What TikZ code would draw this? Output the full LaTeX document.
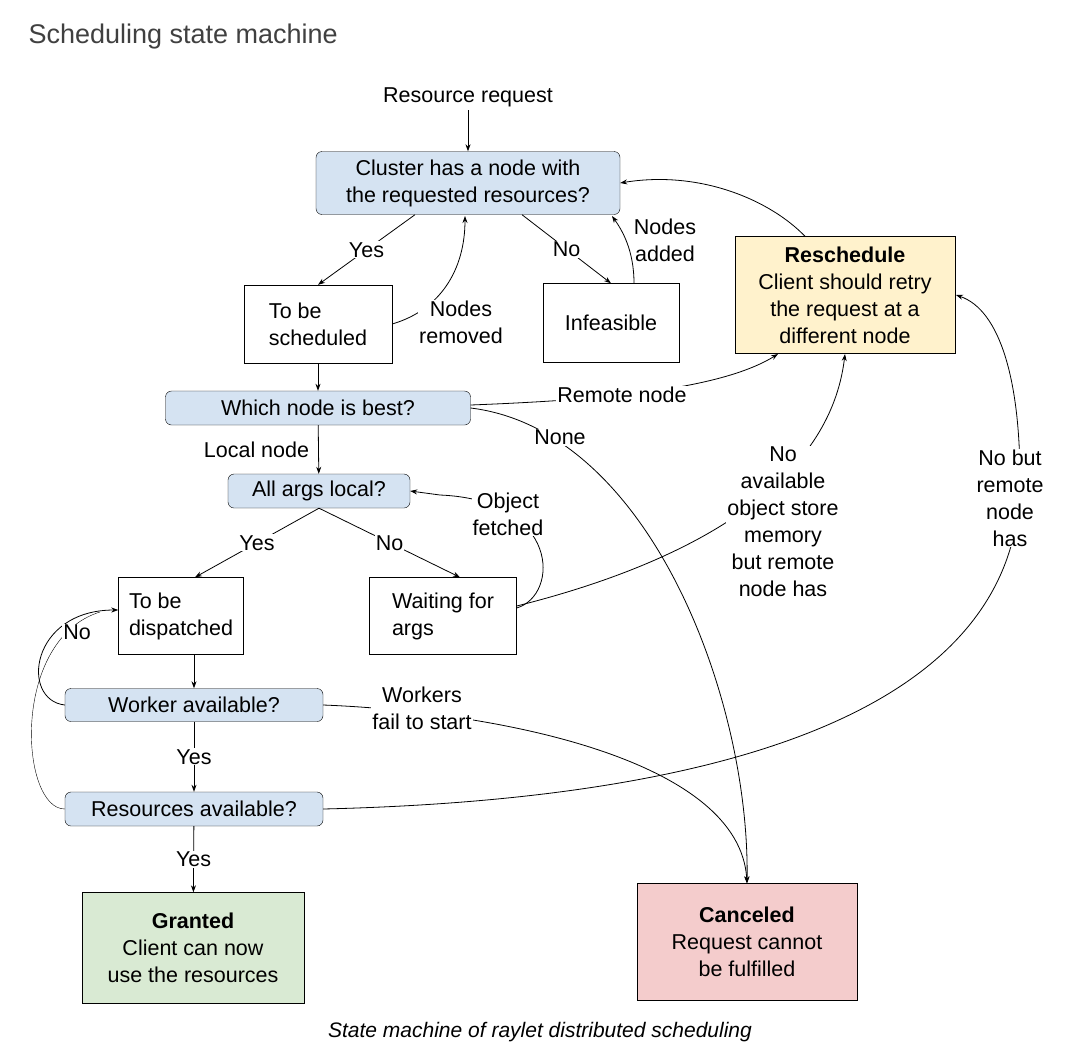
\documentclass[tikz,border=0pt]{standalone}
\usepackage{fontspec}
\setmainfont{Liberation Sans}
\usetikzlibrary{arrows.meta}
\definecolor{bl}{HTML}{D5E3F2}
\definecolor{yl}{HTML}{FFF2CC}
\definecolor{gr}{HTML}{D9EAD3}
\definecolor{pk}{HTML}{F4CCCC}
\begin{document}
\begin{tikzpicture}[x=1pt,y=-1pt,
  every node/.style={font=\fontsize{21.5}{27}\selectfont, align=center},
  box/.style={draw, inner sep=0pt},
  dec/.style={box, fill=bl, rounded corners=6pt},
  lab/.style={fill=white, inner sep=1pt},
  ar/.style={draw, -{Stealth[length=7pt,width=5pt]}, line width=0.8pt}]
\useasboundingbox (0,0) rectangle (1080,1058);
\node[anchor=west, font=\fontsize{27}{30}\selectfont, text=black!75] (title) at (25,37) {Scheduling state machine};
\node (req) at (468,97) {Resource request};
\node[dec, minimum width=304pt, minimum height=63pt] (cl) at (468,183) {Cluster has a node with\\the requested resources?};
\node[box, minimum width=148pt, minimum height=78pt, align=left] (tbs) at (318,324) {To be\\scheduled};
\node[box, minimum width=136pt, minimum height=79pt] (inf) at (611,323) {Infeasible};
\node[box, fill=yl, minimum width=220pt, minimum height=117pt] (res) at (845,295) {\textbf{Reschedule}\\Client should retry\\the request at a\\different node};
\node[dec, minimum width=305pt, minimum height=34pt] (wnb) at (318,408) {Which node is best?};
\node[dec, minimum width=182pt, minimum height=34pt] (aal) at (319,491) {All args local?};
\node[box, minimum width=125pt, minimum height=77pt, align=left] (tbd) at (181,616) {To be\\dispatched};
\node[box, minimum width=147pt, minimum height=77pt, align=left] (wfa) at (443,616) {Waiting for\\args};
\node[dec, minimum width=258pt, minimum height=33pt] (wa) at (194,705) {Worker available?};
\node[dec, minimum width=258pt, minimum height=34pt] (ra) at (194,809) {Resources available?};
\node[box, fill=gr, minimum width=222pt, minimum height=111pt] (gra) at (193,948) {\textbf{Granted}\\Client can now\\use the resources};
\node[box, fill=pk, minimum width=220pt, minimum height=117pt] (can) at (747,942) {\textbf{Canceled}\\Request cannot\\be fulfilled};
\node[font=\fontsize{21}{24}\selectfont\itshape] (cap) at (540,1032) {State machine of raylet distributed scheduling};

\draw[ar] (req) -- (cl);
\draw[ar] (cl.south -| 415,0) -- (tbs.north) node[lab, midway] {Yes};
\draw[ar] (cl.south -| 522,0) -- (inf.north) node[lab, midway] {No};
\draw[ar] (inf.north -| 634,0) .. controls (634,250) and (622,230) .. (612,216);
\node (na) at (665,240) {Nodes\\added};
\draw[ar] (tbs.east) .. controls (440,310) and (465,270) .. (465,216);
\node[lab] (nr) at (461,322) {Nodes\\removed};
\draw[ar] (res.north -| 805,0) .. controls (770,200) and (700,170) .. (cl.east);
\draw[ar] (tbs) -- (wnb);
\draw[ar] (wnb.east |- 0,405) .. controls (600,400) and (720,390) .. (778,354);
\node[lab] (rn) at (622,395) {Remote node};
\draw[ar] (wnb.east) .. controls (650,430) and (750,700) .. (can.north);
\node[lab] (none) at (560,437) {None};
\draw[ar] (wnb) -- (aal) node[lab, midway, left=8pt] {Local node};
\draw[ar] (aal.south) -- (tbd.north -| 195,0) node[lab, midway] {Yes};
\draw[ar] (aal.south) -- (wfa.north -| 460,0) node[lab, midway] {No};
\draw[ar] (wfa.east |- 0,608) .. controls (560,595) and (560,500) .. (440,495) -- (aal.east);
\node[lab] (of) at (508,514) {Object\\fetched};
\draw[ar] (wfa.east |- 0,606) .. controls (700,560) and (830,480) .. (845,354);
\node[lab] (nav) at (783,522) {No\\available\\object store\\memory\\but remote\\node has};
\draw[ar] (tbd.south -| 194,0) -- (wa);
\draw[ar] (wa) -- (ra) node[lab, midway] {Yes};
\draw[ar] (ra) -- (gra) node[lab, midway] {Yes};
\draw[ar] (wa.west) .. controls (20,700) and (30,610) .. (tbd.west |- 0,610);
\draw (ra.west) .. controls (20,809) and (10,640) .. (100,612);
\node[lab] (no) at (77,632) {No};
\draw[ar] (wa.east) .. controls (500,712) and (740,760) .. (can.north);
\node[lab] (wf) at (422,708) {Workers\\fail to start};
\draw[ar] (ra.east) .. controls (700,800) and (1020,720) .. (1020,480) .. controls (1020,380) and (1000,310) .. (956,295);
\node[lab] (nbr) at (1010,498) {No but\\remote\\node\\has};
\end{tikzpicture}
\end{document}
